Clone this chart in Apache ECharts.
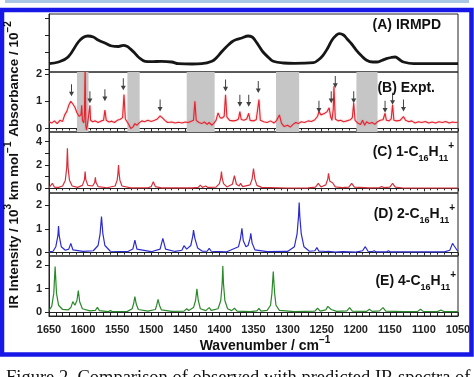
<!DOCTYPE html>
<html>
<head>
<meta charset="utf-8">
<script src="https://cdn.jsdelivr.net/npm/echarts@6/dist/echarts.min.js"></script>
<style>
  html, body { margin: 0; padding: 0; background: #fff; }
  #chart { width: 474px; height: 377px; }
</style>
</head>
<body>
<div id="chart"></div>
<script>
// spectra, [wavenumber, value]
// (A) IRMPD, arbitrary units
var irmpd = [[1650,8.3],[1636,10],[1622,15],[1607,30],[1600,34.5],[1593,36],[1585,35],[1578,32],[1568,29],[1558,26],
  [1548,25.5],[1541,26.7],[1535,25.5],[1531,23.3],[1525,19.5],[1519,15],[1509,10.7],[1500,10.3],[1485,10.7],[1470,10],
  [1460,8.3],[1440,8],[1426,8.3],[1411,10.7],[1404,14.5],[1397,20],[1390,25],[1382,30],[1375,32.5],[1367,34],[1358,36],
  [1352,35],[1348,32],[1342,26],[1336,20],[1328,14.5],[1321,10.7],[1306,9],[1290,8.7],[1262,9.3],[1255,12],[1248,16.7],
  [1241,24],[1235,31.7],[1229,36.5],[1224,38.3],[1218,37],[1213,33.3],[1206,28],[1199,21.7],[1192,16.5],[1184,11.7],
  [1175,10],[1169,10],[1162,11.5],[1155,13.3],[1148,14.5],[1142,15],[1136,12.5],[1130,10],[1115,8.3],[1050,8.3]];

// (B) Expt. absorbance / 10^-2
var expt = [[1650,0.25],[1646,0.2],[1642,0.28],[1638,0.18],[1634,0.3],[1630,0.26],[1627,0.5],[1624,0.62],[1621,0.85],
  [1618,1.0],[1615,0.9],[1612,0.78],[1609,0.58],[1606,0.45],[1603,0.5],[1602,0.85],[1601,0.3],[1599,0.2],[1598,0.5],
  [1597,2.3],[1596,0.1],[1595,-0.05],[1593,0.25],[1591,0.3],[1590,0.85],[1589,0.3],[1586,0.25],[1582,0.28],[1578,0.22],
  [1574,0.27],[1570,0.3],[1568,0.68],[1566,0.3],[1562,0.24],[1558,0.27],[1554,0.22],[1550,0.3],[1546,0.33],[1542,0.4],
  [1540,1.25],[1538,0.35],[1536,0.28],[1533,0.15],[1530,0.0],[1527,0.05],[1524,0.18],[1521,0.12],[1518,0.2],[1514,0.28],
  [1510,0.25],[1505,0.3],[1500,0.26],[1495,0.3],[1491,0.35],[1487,0.46],[1484,0.4],[1480,0.3],[1476,0.22],[1470,0.24],
  [1465,0.2],[1460,0.23],[1455,0.2],[1450,0.24],[1446,0.22],[1442,0.26],[1438,0.3],[1436,1.0],[1434,0.3],[1430,0.22],
  [1426,0.18],[1422,0.24],[1418,0.15],[1415,0.22],[1411,0.12],[1408,0.2],[1405,0.3],[1402,0.57],[1399,0.4],[1396,0.38],
  [1393,0.45],[1391,1.24],[1389,0.42],[1385,0.3],[1380,0.28],[1375,0.3],[1372,0.35],[1370,0.62],[1368,0.33],[1364,0.3],
  [1360,0.35],[1357,0.56],[1355,0.3],[1350,0.28],[1346,0.32],[1342,1.06],[1340,0.3],[1335,0.25],[1330,0.22],[1325,0.28],
  [1320,0.2],[1316,0.3],[1312,0.5],[1309,0.2],[1305,0.07],[1300,0.12],[1296,0.05],[1292,0.15],[1288,0.22],[1284,0.18],
  [1280,0.25],[1275,0.22],[1270,0.28],[1265,0.26],[1260,0.32],[1256,0.45],[1254,0.62],[1251,0.5],[1246,0.55],[1242,0.62],
  [1239,0.76],[1237,0.45],[1235,0.3],[1233,0.7],[1232,1.55],[1230,0.35],[1226,0.28],[1222,0.3],[1218,0.25],[1213,0.28],
  [1208,0.32],[1205,0.4],[1203,0.93],[1201,0.3],[1197,0.2],[1193,0.15],[1190,0.3],[1187,0.12],[1184,0.25],[1180,0.18],
  [1176,0.22],[1172,0.15],[1168,0.25],[1164,0.3],[1160,0.32],[1157,0.56],[1155,0.3],[1151,0.28],[1148,0.35],[1146,0.87],
  [1144,0.3],[1140,0.28],[1135,0.3],[1130,0.44],[1127,0.3],[1122,0.25],[1118,0.28],[1113,0.2],[1108,0.25],[1103,0.22],
  [1098,0.26],[1093,0.2],[1088,0.24],[1083,0.2],[1078,0.25],[1073,0.22],[1068,0.26],[1063,0.2],[1058,0.24],[1054,0.22],
  [1050,0.23]];

// grey bands in (B)
var shadedRanges = [[1609,1592],[1535,1517],[1448,1407],[1317,1283],[1199,1168]];

// arrow tips in (B)
var arrowTips = [[1617,1.18],[1590,0.93],[1568,1.0],[1541,1.4],[1487,0.62],[1391,1.36],[1370,0.8],[1357,0.8],
  [1343,1.3],[1254,0.58],[1236,0.93],[1230,1.49],[1203,0.93],[1157,0.58],[1146,0.87],[1130,0.62]];

// (C) 1-C16H11+
var isomer1 = [[1650,0.05],[1648,0.1],[1645,0.43],[1642,0.1],[1636,0.08],[1630,0.2],[1626,0.7],[1624,1.8],[1623,3.43],
  [1622,1.8],[1620,0.7],[1616,0.2],[1608,0.08],[1601,0.25],[1598,0.75],[1597,1.43],[1596,0.75],[1593,0.25],[1586,0.2],
  [1583,0.5],[1582,0.94],[1581,0.5],[1578,0.15],[1565,0.05],[1553,0.2],[1550,0.7],[1549,1.2],[1548,2.0],[1547,1.2],
  [1546,0.7],[1543,0.2],[1530,0.04],[1505,0.05],[1500,0.15],[1497,0.57],[1494,0.15],[1485,0.04],[1440,0.04],[1431,0.08],
  [1428,0.28],[1425,0.08],[1420,0.2],[1417,0.08],[1405,0.1],[1400,0.4],[1398,0.9],[1397,1.43],[1396,0.9],[1394,0.4],
  [1389,0.12],[1381,0.35],[1378,1.08],[1375,0.35],[1371,0.2],[1369,0.43],[1366,0.15],[1355,0.3],[1352,0.8],[1350,1.7],
  [1348,0.8],[1345,0.25],[1338,0.08],[1300,0.03],[1270,0.04],[1259,0.1],[1255,0.43],[1251,0.12],[1244,0.3],[1241,0.8],
  [1240,1.29],[1238,0.6],[1234,0.48],[1230,0.12],[1220,0.06],[1210,0.1],[1206,0.43],[1202,0.1],[1180,0.04],[1165,0.06],
  [1162,0.15],[1159,0.06],[1150,0.1],[1146,0.43],[1142,0.1],[1130,0.03],[1050,0.03]];

// (D) 2-C16H11+
var isomer2 = [[1650,0.03],[1644,0.06],[1640,0.25],[1637,0.7],[1636,1.12],[1635,0.7],[1632,0.25],[1626,0.1],[1621,0.15],
  [1618,0.39],[1615,0.12],[1600,0.05],[1585,0.08],[1578,0.3],[1575,0.8],[1573,1.51],[1571,0.8],[1568,0.3],[1560,0.06],
  [1535,0.04],[1527,0.15],[1524,0.53],[1521,0.15],[1500,0.04],[1487,0.15],[1483,0.6],[1479,0.15],[1465,0.05],[1455,0.1],
  [1452,0.29],[1448,0.15],[1442,0.3],[1439,0.7],[1438,0.95],[1436,0.6],[1432,0.2],[1425,0.06],[1418,0.06],[1415,0.18],
  [1412,0.06],[1390,0.03],[1372,0.25],[1369,0.6],[1367,1.02],[1365,0.5],[1361,0.25],[1358,0.3],[1355,0.6],[1354,0.81],
  [1352,0.4],[1348,0.12],[1330,0.04],[1300,0.05],[1290,0.25],[1286,0.8],[1284,1.5],[1283,2.1],[1282,1.5],[1280,0.8],
  [1276,0.25],[1268,0.06],[1260,0.08],[1257,0.21],[1254,0.06],[1248,0.06],[1244,0.04],[1240,0.06],[1230,0.02],[1219,0.04],
  [1200,0.02],[1190,0.08],[1186,0.25],[1182,0.06],[1176,0.04],[1173,0.08],[1170,0.03],[1155,0.03],[1152,0.08],[1149,0.03],
  [1113,0.03],[1070,0.03],[1062,0.1],[1058,0.39],[1056,0.3],[1050,0.05]];

// (E) 4-C16H11+
var isomer4 = [[1650,0.08],[1646,0.25],[1643,0.8],[1641,1.94],[1639,0.8],[1636,0.3],[1630,0.12],[1622,0.1],[1618,0.2],
  [1615,0.45],[1612,0.3],[1609,0.5],[1607,0.92],[1605,0.45],[1601,0.15],[1590,0.06],[1582,0.08],[1579,0.21],[1576,0.07],
  [1563,0.03],[1560,0.07],[1557,0.03],[1535,0.04],[1528,0.15],[1526,0.35],[1524,0.66],[1522,0.35],[1519,0.12],[1505,0.05],
  [1494,0.12],[1492,0.3],[1490,0.55],[1488,0.3],[1485,0.1],[1470,0.04],[1452,0.05],[1448,0.15],[1445,0.08],[1438,0.2],
  [1435,0.5],[1433,0.99],[1431,0.5],[1428,0.15],[1420,0.07],[1415,0.2],[1412,0.08],[1402,0.15],[1398,0.5],[1396,1.2],
  [1395,1.96],[1394,1.2],[1392,0.5],[1388,0.15],[1382,0.07],[1378,0.17],[1374,0.05],[1355,0.03],[1345,0.06],[1342,0.17],
  [1339,0.05],[1330,0.08],[1325,0.3],[1323,0.8],[1321,1.72],[1319,0.8],[1317,0.3],[1312,0.08],[1290,0.03],[1260,0.05],
  [1256,0.17],[1252,0.05],[1244,0.1],[1241,0.25],[1239,0.31],[1236,0.12],[1228,0.04],[1213,0.06],[1209,0.2],[1205,0.05],
  [1184,0.04],[1180,0.13],[1176,0.04],[1165,0.06],[1160,0.2],[1156,0.05],[1130,0.03],[1109,0.04],[1105,0.13],[1101,0.04],
  [1080,0.03],[1075,0.1],[1071,0.03],[1050,0.03]];

// y ticks per panel
var ticksA = [3, 20, 37, 54];
var ticksB = [0, 1, 2];
var ticksC = [0, 1, 2, 3, 4];
var labelsC = [0, 2, 4];
var ticksD = [0, 1, 2];
var ticksE = [0, 1, 2];

var FONT = 'Liberation Sans, Arial, sans-serif';
var AXIS = '#222';

var chart = echarts.init(document.getElementById('chart'));

var panels = [
    {top: 14, height: 58, min: 0, max: 58, ticks: ticksA, labels: []},
    {top: 72, height: 60, min: -0.128, max: 2.073, ticks: ticksB, labels: ticksB},
    {top: 132, height: 61, min: -0.40, max: 4.83, ticks: ticksC, labels: labelsC},
    {top: 193, height: 63, min: -0.14, max: 2.50, ticks: ticksD, labels: ticksD},
    {top: 256, height: 60, min: -0.156, max: 2.38, ticks: ticksE, labels: ticksE}
];

var grids = [], xAxes = [], yAxes = [];
panels.forEach(function (p, i) {
    grids.push({
        left: 49, right: 16, top: p.top, height: p.height,
        show: true, borderColor: AXIS, borderWidth: 1, backgroundColor: 'transparent',
        containLabel: false, outerBoundsMode: 'none'
    });
    xAxes.push({
        type: 'value', gridIndex: i, min: 1050, max: 1650, interval: 50, inverse: true,
        position: 'top',
        axisLine: {show: i > 0, lineStyle: {color: AXIS, width: 1}},
        axisTick: {show: i > 0, inside: true, length: 3, lineStyle: {color: AXIS}},
        minorTick: {show: i > 0, splitNumber: 5, length: 2, lineStyle: {color: AXIS}},
        axisLabel: {show: false},
        splitLine: {show: false}
    });
    yAxes.push({
        type: 'value', gridIndex: i, min: p.min, max: p.max,
        axisLine: {show: true, lineStyle: {color: AXIS, width: 1}},
        axisTick: {show: true, length: 4, customValues: p.ticks, lineStyle: {color: AXIS}},
        axisLabel: {
            show: p.labels.length > 0, customValues: p.labels, margin: 7,
            fontFamily: FONT, fontWeight: 'bold', fontSize: 11, color: '#222'
        },
        splitLine: {show: false}
    });
});
// bottom axis with tick labels
xAxes.push({
    type: 'value', gridIndex: 4, min: 1050, max: 1650, interval: 50, inverse: true,
    position: 'bottom',
    axisLine: {show: true, lineStyle: {color: AXIS, width: 1}},
    axisTick: {show: true, inside: true, length: 3, lineStyle: {color: AXIS}},
    minorTick: {show: true, splitNumber: 5, length: 2, lineStyle: {color: AXIS}},
    axisLabel: {
        show: true, margin: 8, showMinLabel: true, showMaxLabel: true,
        formatter: function (v) { return String(v); },
        fontFamily: FONT, fontWeight: 'bold', fontSize: 11, color: '#222'
    },
    splitLine: {show: false}
});

function spectrum(data, idx, color, width) {
    return {
        type: 'line', xAxisIndex: idx, yAxisIndex: idx, data: data,
        showSymbol: false, silent: true, animation: false,
        lineStyle: {color: color, width: width}, itemStyle: {color: color}
    };
}

var irmpdSeries = spectrum(irmpd, 0, '#161616', 2.8);
irmpdSeries.smooth = 0.4;

var exptSeries = spectrum(expt, 1, '#e3232d', 1.1);
exptSeries.lineStyle.shadowColor = 'rgba(240,90,100,0.55)';
exptSeries.lineStyle.shadowBlur = 2;
exptSeries.markArea = {
    silent: true,
    itemStyle: {color: '#c6c6c6'},
    data: shadedRanges.map(function (r) { return [{xAxis: r[0]}, {xAxis: r[1]}]; })
};

var arrowSeries = {
    type: 'scatter', xAxisIndex: 1, yAxisIndex: 1, data: arrowTips, silent: true, animation: false,
    symbol: 'path://M4,0 L6,0 L6,11 L10,11 L5,18 L0,11 L4,11 Z',
    symbolSize: [5, 12], symbolOffset: [0, -6],
    itemStyle: {color: '#111'}, z: 5
};

function label(text, x, y, size, extra) {
    return {
        type: 'text', x: x, y: y, z: 20, rotation: extra && extra.rotation || 0,
        style: {
            text: text, fontFamily: FONT, fontWeight: 'bold', fontSize: size, fill: '#111',
            align: extra && extra.align || 'right', verticalAlign: 'middle',
            rich: {
                s: {fontFamily: FONT, fontWeight: 'bold', fontSize: 9, fill: '#111', verticalAlign: 'bottom', lineHeight: 22},
                p: {fontFamily: FONT, fontWeight: 'bold', fontSize: 10, fill: '#111', verticalAlign: 'top', lineHeight: 22}
            }
        }
    };
}

chart.setOption({
    backgroundColor: '#fff',
    animation: false,
    grid: grids,
    xAxis: xAxes,
    yAxis: yAxes,
    series: [
        irmpdSeries,
        exptSeries,
        arrowSeries,
        spectrum(isomer1, 2, '#d8303a', 1.2),
        spectrum(isomer2, 3, '#2b2bcf', 1.2),
        spectrum(isomer4, 4, '#2a8a2a', 1.2)
    ],
    graphic: [
        // pale strip above the frame and the blue frame
        {type: 'rect', shape: {x: 5, y: 0, width: 464, height: 3}, style: {fill: '#a9c6e4'}, z: 1},
        {type: 'rect', shape: {x: 2, y: 10, width: 469.5, height: 344.5},
            style: {fill: null, stroke: '#1717e8', lineWidth: 4.5}, z: 1},
        label('(A) IRMPD', 441, 25, 14),
        label('(B) Expt.', 435, 88, 14),
        label('(C) 1-C{s|16}H{s|11}{p|+}', 454, 152, 14),
        label('(D) 2-C{s|16}H{s|11}{p|+}', 455, 214, 14),
        label('(E) 4-C{s|16}H{s|11}{p|+}', 456, 281, 14),
        label('Wavenumber / cm{p|\u22121}', 265, 346, 14, {align: 'center'}),
        label('Absorbance / 10{p|\u22122}', 14, 79, 13.5, {align: 'center', rotation: Math.PI / 2}),
        label('IR Intensity / 10{p|3} km mol{p|\u22121}', 14, 225, 13.5, {align: 'center', rotation: Math.PI / 2}),
        {type: 'text', x: 6, y: 369, z: 20,
            style: {text: 'Figure 2. Comparison of observed with predicted IR spectra of',
                fontFamily: 'Liberation Serif, Times New Roman, serif', fontSize: 18.5, fill: '#111',
                align: 'left', verticalAlign: 'top'}}
    ]
});
</script>
</body>
</html>
